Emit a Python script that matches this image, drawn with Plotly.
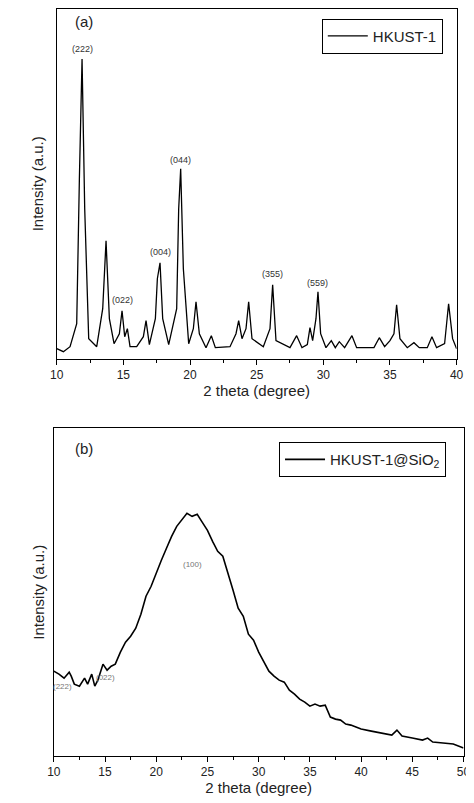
import plotly.graph_objects as go

theta_a = [10, 10.5, 11.0, 11.5, 11.7, 11.9, 12.1, 12.4, 13.0, 13.45, 13.7, 13.95, 14.3, 14.7, 14.9, 15.1,
           15.3, 15.5, 16.0, 16.5, 16.7, 16.95, 17.4, 17.55, 17.75, 17.95, 18.4, 19.0, 19.15, 19.3, 19.5,
           19.9, 20.25, 20.45, 20.7, 21.2, 21.6, 21.9, 23.0, 23.45, 23.65, 23.9, 24.2, 24.4, 24.65, 25.5,
           26.0, 26.2, 26.45, 27.5, 28.0, 28.4, 28.8, 29.0, 29.2, 29.45, 29.6, 29.8, 30.2, 30.6, 30.9,
           31.2, 31.6, 32.15, 32.5, 33.8, 34.2, 34.6, 35.0, 35.3, 35.5, 35.75, 36.3, 36.8, 37.2, 37.8,
           38.15, 38.5, 39.1, 39.4, 39.7, 40]
int_a = [10, 7, 12, 35, 180, 300, 150, 20, 12, 50, 118, 40, 15, 25, 48, 22,
         30, 12, 12, 22, 38, 14, 40, 80, 96, 40, 14, 50, 150, 190, 90,
         15, 30, 57, 25, 11, 23, 11, 12, 25, 38, 20, 30, 57, 20, 12,
         30, 74, 18, 11, 23, 11, 14, 31, 18, 40, 67, 25, 11, 18, 11,
         17, 11, 23, 11, 11, 21, 12, 18, 25, 54, 20, 11, 16, 11, 11,
         22, 11, 15, 55, 20, 10]
hkl_a = ["(222)", "(022)", "(004)", "(044)", "(355)", "(559)"]
hkl_a_x = [11.9, 14.9, 17.75, 19.3, 26.2, 29.6]
hkl_a_y = [303, 52, 100, 192, 78, 69]

theta_b = [10, 10.5, 11, 11.5, 11.7, 12, 12.5, 13, 13.3, 13.7, 14, 14.3, 14.8, 15.2, 15.6, 16, 16.5, 17,
           17.5, 18, 18.5, 19, 19.5, 20, 20.5, 21, 21.5, 22, 22.5, 23, 23.5, 24, 24.5, 25, 25.5, 26,
           26.5, 27, 27.5, 28, 28.5, 29, 29.5, 30, 30.5, 31, 31.5, 32, 32.5, 33, 33.5, 34, 34.5, 35,
           35.5, 36, 36.5, 37, 37.5, 38, 38.5, 39, 39.5, 40, 41, 42, 43, 43.5, 44, 45, 46, 46.5, 47,
           48, 49, 50]
int_b = [85, 82, 78, 84, 80, 72, 70, 78, 72, 82, 70, 76, 92, 86, 90, 92, 104, 114,
         120, 128, 142, 160, 170, 184, 196, 208, 220, 230, 236, 243, 240, 242, 234, 226, 215, 205,
         200, 184, 166, 148, 140, 122, 116, 104, 94, 85, 80, 76, 74, 66, 62, 57, 54, 50,
         52, 50, 51, 39, 37, 36, 32, 31, 29, 27, 25, 23, 21, 26, 20, 18, 16, 18, 14,
         13, 12, 8]
hkl_b = ["(222)", "(022)", "(100)"]
hkl_b_x = [10.8, 15.0, 23.5]
hkl_b_y = [70, 79, 192]

FONT = "Liberation Sans, Arial, sans-serif"

fig = go.Figure()
fig.add_trace(go.Scatter(x=theta_a, y=int_a, mode="lines", line=dict(color="black", width=1.3),
                         name="HKUST-1", legend="legend", xaxis="x", yaxis="y"))
fig.add_trace(go.Scatter(x=theta_b, y=int_b, mode="lines", line=dict(color="black", width=1.6),
                         name="HKUST-1@SiO<sub>2</sub>", legend="legend2", xaxis="x2", yaxis="y2"))

ann = []
for t, x, y in zip(hkl_a, hkl_a_x, hkl_a_y):
    ann.append(dict(x=x, y=y, xref="x", yref="y", text=t, showarrow=False, font=dict(size=9, color="#333", family=FONT), yanchor="bottom"))
for t, x, y in zip(hkl_b, hkl_b_x, hkl_b_y):
    ann.append(dict(x=x, y=y, xref="x2", yref="y2", text=t, showarrow=False, font=dict(size=8, color="#777", family=FONT)))
ann.append(dict(x=0.127, y=0.997, xref="paper", yref="paper", text="(a)", showarrow=False, font=dict(size=15, color="#222", family=FONT), xanchor="left", yanchor="top"))
ann.append(dict(x=0.125, y=0.452, xref="paper", yref="paper", text="(b)", showarrow=False, font=dict(size=15, color="#222", family=FONT), xanchor="left"))

axcommon = dict(showline=True, mirror=True, linecolor="black", linewidth=1, showgrid=False, zeroline=False,
                ticks="outside", ticklen=5, tickcolor="black", tickfont=dict(size=12, color="#222", family=FONT),
                minor=dict(ticks="outside", ticklen=3, dtick=2.5, tickcolor="black"))
ycommon = dict(showline=True, mirror=True, linecolor="black", linewidth=1, showgrid=False, zeroline=False,
               showticklabels=False, ticks="")

fig.update_layout(
    width=474, height=803, margin=dict(l=0, r=0, t=0, b=0),
    paper_bgcolor="white", plot_bgcolor="white",
    font=dict(family=FONT, color="#222"),
    xaxis=dict(domain=[0.0907, 0.96], anchor="y", range=[10, 40], dtick=5,
               title=dict(text="2 theta (degree)", font=dict(size=15), standoff=4), **axcommon),
    yaxis=dict(domain=[0.564, 1.0], anchor="x", range=[0, 350],
               title=dict(text="Intensity (a.u.)", font=dict(size=15), standoff=8), **ycommon),
    xaxis2=dict(domain=[0.0844, 0.975], anchor="y2", range=[10, 50], dtick=5,
                title=dict(text="2 theta (degree)", font=dict(size=15), standoff=4), **axcommon),
    yaxis2=dict(domain=[0.0685, 0.477], anchor="x2", range=[0, 328],
                title=dict(text="Intensity (a.u.)", font=dict(size=15), standoff=4), **ycommon),
    legend=dict(x=0.93, y=0.988, xanchor="right", yanchor="top", bordercolor="black", borderwidth=1,
                font=dict(size=15, family=FONT), bgcolor="white", itemwidth=40, tracegroupgap=0),
    legend2=dict(x=0.937, y=0.46, xanchor="right", yanchor="top", bordercolor="black", borderwidth=1,
                 font=dict(size=15, family=FONT), bgcolor="white", itemwidth=40),
    annotations=ann, showlegend=True,
)
fig.write_html("out.html")
